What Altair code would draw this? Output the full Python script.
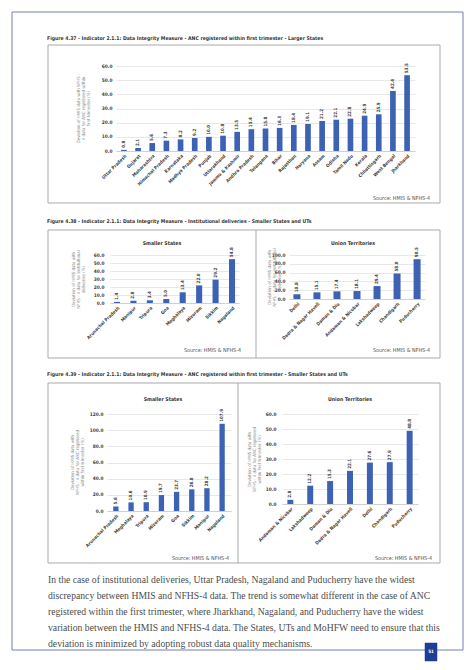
import altair as alt
import pandas as pd

# ---------------- data ----------------
f437_states = ["Uttar Pradesh", "Gujarat", "Maharashtra", "Himachal Pradesh", "Karnataka",
               "Madhya Pradesh", "Punjab", "Uttarakhand", "Jammu & Kashmir", "Andhra Pradesh",
               "Telangana", "Bihar", "Rajasthan", "Haryana", "Assam", "Odisha", "Tamil Nadu",
               "Kerala", "Chhattisgarh", "West Bengal", "Jharkhand"]
f437_values = [0.8, 2.1, 5.6, 7.3, 8.2, 9.2, 10.0, 10.8, 13.5, 15.4, 15.8, 16.3, 18.4, 19.1,
               21.2, 22.1, 22.8, 24.9, 25.9, 42.4, 53.5]

f438_small = ["Arunachal Pradesh", "Manipur", "Tripura", "Goa", "Meghalaya", "Mizoram", "Sikkim", "Nagaland"]
f438_small_values = [1.4, 2.8, 3.4, 5.0, 13.4, 22.0, 29.2, 54.8]

f438_ut = ["Delhi", "Dadra & Nagar Haveli", "Daman & Diu", "Andaman & Nicobar", "Lakshadweep",
           "Chandigarh", "Puducherry"]
f438_ut_values = [10.8, 15.1, 17.4, 18.1, 29.4, 58.0, 90.5]

f439_small = ["Arunachal Pradesh", "Meghalaya", "Tripura", "Mizoram", "Goa", "Sikkim", "Manipur", "Nagaland"]
f439_small_values = [5.6, 10.6, 10.9, 19.7, 23.7, 26.8, 28.2, 107.9]

f439_ut = ["Andaman & Nicobar", "Lakshadweep", "Daman & Diu", "Dadra & Nagar Haveli", "Delhi",
           "Chandigarh", "Puducherry"]
f439_ut_values = [2.8, 12.2, 15.3, 22.1, 27.6, 27.9, 48.8]

ticks_60 = [0, 10, 20, 30, 40, 50, 60]
ticks_100 = [0, 20, 40, 60, 80, 100]
ticks_120 = [0, 20, 40, 60, 80, 100, 120]

captions = [
    "Figure 4.37 - Indicator 2.1.1: Data Integrity Measure - ANC registered within first trimester - Larger States",
    "Figure 4.38 - Indicator 2.1.1: Data Integrity Measure - Institutional deliveries - Smaller States and UTs",
    "Figure 4.39 - Indicator 2.1.1: Data Integrity Measure - ANC registered within first trimester - Smaller States and UTs",
]
panel_titles = ["Smaller States", "Union Territories"]
source_text = "Source: HMIS & NFHS-4"
ytitle_437 = ["Deviation of HMIS data with NFHS -", "4 data for ANC registered within", "first trimester (%)"]
ytitle_438 = ["Deviation of HMIS data with", "NFHS - 4 data for institutional", "deliveries (%)"]
ytitle_439 = ["Deviation of HMIS data with", "NFHS - 4 data for ANC registered", "within first trimester (%)"]
paragraph_lines = [
    "In the case of institutional deliveries, Uttar Pradesh, Nagaland and Puducherry have the widest",
    "discrepancy between  HMIS and NFHS-4 data. The trend is somewhat different in the case of ANC",
    "registered within the first trimester, where Jharkhand, Nagaland, and Puducherry  have the widest",
    "variation between the HMIS and NFHS-4 data. The States, UTs and MoHFW need to ensure that this",
    "deviation is minimized by adopting robust data quality mechanisms.",
]
page_number = "51"

# ---------------- style ----------------
W, H = 458, 654
BLUE = "#3d62b3"
NARROW = "Liberation Sans Narrow, DejaVu Sans Condensed, Roboto, sans-serif"
SERIF = "Liberation Serif, DejaVu Serif, serif"
BOX = "#a9a9a9"
PAGE = "#6f7fb8"


def panel(cats, vals, xr, pi, po, yr, dom, ticks, axis_x, ytitle, tx, ty):
    df = pd.DataFrame({"cat": cats, "val": vals})
    x = alt.X("cat:N", sort=cats,
              scale=alt.Scale(range=xr, paddingInner=pi, paddingOuter=po),
              axis=alt.Axis(orient="bottom", offset=-(H - yr[0]), title="", labelAngle=-45,
                            labelFont=NARROW, labelFontSize=4.6, labelFontWeight="bold",
                            labelColor="#3a3a3a", labelPadding=2, ticks=False, tickSize=0,
                            domainColor="#c9c9c9", domainWidth=0.8, grid=False,
                            labelOverlap=False))
    y = alt.Y("val:Q",
              scale=alt.Scale(domain=dom, range=yr, nice=False, zero=True),
              axis=alt.Axis(orient="left", offset=-axis_x, values=ticks, format=".1f",
                            title=ytitle, titleX=tx - axis_x, titleY=ty, titleAngle=270,
                            titleAlign="center", titleBaseline="middle", titleFont=NARROW,
                            titleFontSize=4.4, titleFontWeight="normal", titleColor="#8a8a8a",
                            titleLineHeight=5.0, labelFont=NARROW, labelFontSize=4.8,
                            labelFontWeight="bold", labelColor="#3a3a3a", labelPadding=2,
                            grid=True, gridColor="#d9d9d9", gridWidth=0.6, domain=False,
                            ticks=False, tickSize=0))
    base = alt.Chart(df).encode(x=x, y=y)
    bars = base.mark_bar(color=BLUE)
    labels = base.mark_text(angle=270, align="left", baseline="middle", dx=2, font=NARROW,
                            fontSize=4.5, fontWeight="bold", color="#404040").encode(
        text=alt.Text("val:Q", format=".1f"))
    return alt.layer(bars, labels)


def txt(s, x, y, size, weight="normal", color="#333333", align="left", font=NARROW):
    return alt.Chart(pd.DataFrame({"t": [s]})).mark_text(
        align=align, baseline="middle", font=font, fontSize=size, fontWeight=weight,
        color=color).encode(text="t:N", x=alt.value(x), y=alt.value(y))


def rect(x1, y1, x2, y2, stroke, sw=1.0, fill="#ffffff", fo=0.0):
    return alt.Chart(pd.DataFrame({"a": [0]})).mark_rect(
        fill=fill, fillOpacity=fo, stroke=stroke, strokeWidth=sw).encode(
        x=alt.value(x1), x2=alt.value(x2), y=alt.value(y1), y2=alt.value(y2))


def vrule(x, y1, y2, color):
    return alt.Chart(pd.DataFrame({"a": [0]})).mark_rule(color=color, strokeWidth=1).encode(
        x=alt.value(x), y=alt.value(y1), y2=alt.value(y2))


decor = [
    rect(4, 4, 455, 642, PAGE, 1.0),
    rect(40, 37, 432, 195, BOX, 1.0),
    rect(40, 222, 432, 350, BOX, 1.0),
    vrule(248, 222, 350, BOX),
    rect(40, 375, 432, 555, BOX, 1.0),
    vrule(230, 375, 555, BOX),
    rect(417, 635, 429, 653, "#1f3c96", 0.5, fill="#1f3c96", fo=1.0),
    txt(page_number, 423, 644, 4.5, "bold", "#ffffff", "center"),
    txt(captions[0], 39, 30, 5.1, "bold"),
    txt(captions[1], 39, 213, 5.1, "bold"),
    txt(captions[2], 39, 366, 5.1, "bold"),
    txt(panel_titles[0], 154, 235, 5.2, "bold", align="center"),
    txt(panel_titles[1], 345, 235, 5.2, "bold", align="center"),
    txt(panel_titles[0], 155, 391, 5.2, "bold", align="center"),
    txt(panel_titles[1], 342, 391, 5.2, "bold", align="center"),
    txt(source_text, 422, 190, 5.4, color="#555555", align="right"),
    txt(source_text, 233, 342, 5.4, color="#555555", align="right"),
    txt(source_text, 422, 342, 5.4, color="#555555", align="right"),
    txt(source_text, 221, 550, 5.4, color="#555555", align="right"),
    txt(source_text, 424, 550, 5.4, color="#555555", align="right"),
]
for i, line in enumerate(paragraph_lines):
    decor.append(txt(line, 40, 572 + 16 * i, 9.7, color="#4d4d4d", font=SERIF))

panels = [
    panel(f437_states, f437_values, [108, 407], 0.6, 0.36, [143, 58], [0, 60], ticks_60,
          106, ytitle_437, 70, 100),
    panel(f438_small, f438_small_values, [102, 231], 0.63, 0.24, [295, 247], [0, 60], ticks_60,
          98, ytitle_438, 65, 271),
    panel(f438_ut, f438_ut_values, [281, 417], 0.65, 0.22, [291, 247], [0, 100], ticks_100,
          279, ytitle_438, 261, 269),
    panel(f439_small, f439_small_values, [99, 223], 0.65, 0.41, [503, 406], [0, 120], ticks_120,
          97, ytitle_439, 64, 454),
    panel(f439_ut, f439_ut_values, [274, 410], 0.7, 0.27, [496, 406], [0, 60], ticks_60,
          270, ytitle_439, 241, 451),
]

chart = alt.layer(*decor, *panels).resolve_scale(
    x="independent", y="independent").resolve_axis(
    x="independent", y="independent").properties(
    width=W, height=H, padding=0, autosize=alt.AutoSizeParams(type="none"),
    background="#ffffff").configure_view(strokeWidth=0)

chart.save("out.html", embed_options={"renderer": "svg", "actions": False})
